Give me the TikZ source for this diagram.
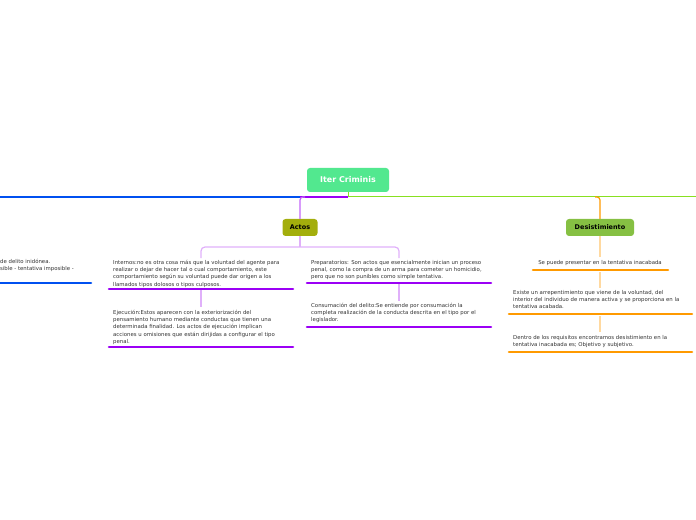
\documentclass[tikz,border=0pt]{standalone}
\usepackage{fontspec}
\setmainfont{DejaVu Sans}
\definecolor{rootc}{HTML}{52E88F}
\definecolor{actc}{HTML}{A3AE0C}
\definecolor{desc}{HTML}{86C043}
\definecolor{purp}{HTML}{9B00F5}
\definecolor{lpurp}{HTML}{E0B0FA}
\definecolor{oran}{HTML}{FF9A00}
\definecolor{loran}{HTML}{FFD9A0}
\definecolor{blu}{HTML}{0050F0}
\definecolor{grn}{HTML}{88E020}
\definecolor{txt}{HTML}{333333}
\tikzset{
 x=1bp,y=-1bp,
 topic/.style={rounded corners=3bp,minimum height=17bp,inner sep=0pt,font=\fontsize{6.5}{7}\selectfont\bfseries},
 leaf/.style={anchor=north west,inner sep=0pt,align=left,text=txt,font=\fontsize{5.4}{7.2}\selectfont},
 ul/.style={line width=2.6bp,line cap=round},
}
\begin{document}
\begin{tikzpicture}
\useasboundingbox (0,0) rectangle (696,520);
% main line
\draw[blu,line width=1.2bp] (0,197) -- (300,197);
\draw[purp,line width=1.2bp] (300,197) -- (348,197);
\draw[grn,line width=1bp] (348,197) -- (696,197);
\node[topic,fill=rootc,text=white,minimum width=82bp,minimum height=24bp,font=\fontsize{8}{9}\selectfont\bfseries] (root) at (348,180) {Iter Criminis};
\draw[grn,line width=1bp] (root.south) -- (348,197);
\node[topic,fill=actc,minimum width=35bp] (actos) at (300,227.5) {Actos};
\node[topic,fill=desc,minimum width=68bp] (des) at (600,227.5) {Desistimiento};
\draw[purp!60,line width=1.2bp,rounded corners=3bp] (305,197) -- (300,197) -- (actos.north);
\draw[oran,line width=1.2bp,rounded corners=3bp] (595,197) -- (600,197) -- (des.north);
% Actos children
\draw[lpurp,line width=1.2bp,rounded corners=4bp] (201,258) -- (201,247) -- (399,247) -- (399,258);
\draw[lpurp,line width=1.2bp] (actos.south) -- (300,247);
\node[leaf] (a1) at (113,260) {Internos:no es otra cosa más que la voluntad del agente para\\realizar o dejar de hacer tal o cual comportamiento, este\\comportamiento según su voluntad puede dar origen a los\\llamados tipos dolosos o tipos culposos.};
\draw[purp,ul] (109,289) -- (293,289);
\node[leaf] (a2) at (113,310) {Ejecución:Estos aparecen con la exteriorización del\\pensamiento humano mediante conductas que tienen una\\determinada finalidad. Los actos de ejecución implican\\acciones u omisiones que están dirijidas a configurar el tipo\\penal.};
\draw[purp,ul] (109,347) -- (293,347);
\draw[lpurp,line width=1.2bp] (201,290) -- (201,307);
\node[leaf] (a3) at (311,260) {Preparatorios: Son actos que esencialmente inician un proceso\\penal, como la compra de un arma para cometer un homicidio,\\pero que no son punibles como simple tentativa.};
\draw[purp,ul] (307,283) -- (491,283);
\draw[lpurp,line width=1.2bp] (399,284) -- (399,301);
\node[leaf] (a4) at (311,303) {Consumación del delito:Se entiende por consumación la\\completa realización de la conducta descrita en el tipo por el\\legislador.};
\draw[purp,ul] (307,327) -- (491,327);
% Desistimiento children
\draw[loran,line width=1.2bp] (des.south) -- (600,257);
\node[inner sep=0pt,text=txt,font=\fontsize{5.4}{7.2}\selectfont] (d1) at (600,263) {Se puede presentar en la tentativa inacabada};
\draw[oran,ul] (533,270) -- (668,270);
\draw[loran,line width=1.2bp] (600,272) -- (600,288);
\node[leaf] (d2) at (513,290) {Existe un arrepentimiento que viene de la voluntad, del\\interior del individuo de manera activa y se proporciona en la\\tentativa acabada.};
\draw[oran,ul] (509,314) -- (692,314);
\draw[loran,line width=1.2bp] (600,316) -- (600,332);
\node[leaf] (d3) at (513,335) {Dentro de los requisitos encontramos desistimiento en la\\tentativa inacabada es; Objetivo y subjetivo.};
\draw[oran,ul] (509,352) -- (692,352);
% left cut-off
\node[leaf] (l1) at (0,259) {de delito inidónea.\\sible - tentativa imposible -};
\draw[blu,ul] (-5,283) -- (91,283);
\end{tikzpicture}
\end{document}
